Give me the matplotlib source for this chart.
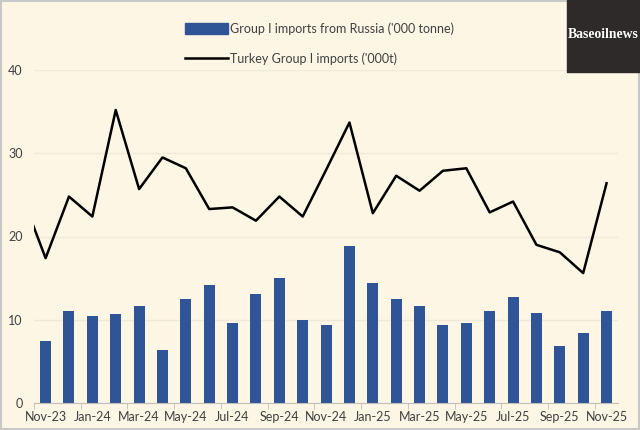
import matplotlib
matplotlib.use('Agg')
import matplotlib.pyplot as plt
from matplotlib.patches import Rectangle
from matplotlib.lines import Line2D

plt.rcParams['font.family'] = ['Lato', 'DejaVu Sans']

months = ['Nov-23', 'Dec-23', 'Jan-24', 'Feb-24', 'Mar-24', 'Apr-24', 'May-24',
          'Jun-24', 'Jul-24', 'Aug-24', 'Sep-24', 'Oct-24', 'Nov-24', 'Dec-24',
          'Jan-25', 'Feb-25', 'Mar-25', 'Apr-25', 'May-25', 'Jun-25', 'Jul-25',
          'Aug-25', 'Sep-25', 'Oct-25', 'Nov-25']
russia = [7.4, 11.1, 10.4, 10.7, 11.7, 6.4, 12.5, 14.2, 9.6, 13.1, 15.0, 10.0,
          9.4, 18.8, 14.4, 12.5, 11.7, 9.4, 9.6, 11.0, 12.7, 10.8, 6.8, 8.4, 11.0]
# Oct-23 value is only partly visible at the left edge of the chart
turkey_prev = 24.8
turkey = [17.4, 24.8, 22.4, 35.2, 25.7, 29.5, 28.2, 23.3, 23.5, 21.9, 24.8, 22.4,
          28.0, 33.7, 22.8, 27.3, 25.5, 27.9, 28.2, 22.9, 24.2, 19.0, 18.1, 15.6, 26.4]

BG = '#fdf6e4'
BLUE = '#2f5597'

fig = plt.figure(figsize=(6.4, 4.3), dpi=100, facecolor=BG)
ax = fig.add_axes([0.053, 0.063, 0.913, 0.774])
ax.set_facecolor(BG)

x = list(range(len(months)))
ax.bar(x, russia, width=0.47, color=BLUE, zorder=2)
ax.plot([-1] + x, [turkey_prev] + turkey, color='black', lw=1.8, zorder=3)

ax.set_xlim(-0.5, len(months) - 0.5)
ax.set_ylim(0, 40)
ax.set_yticks([0, 10, 20, 30, 40])
ax.yaxis.grid(True, color='#efe9d8', lw=1, zorder=0)
ax.set_xticks(x[::2])
ax.set_xticklabels(months[::2])
ax.set_xticks([i - 0.5 for i in x[::2]], minor=True)
ax.tick_params(axis='x', which='major', length=0, pad=6, labelsize=9, colors='#404040')
ax.tick_params(axis='x', which='minor', length=4, color='#bfbfbf')
ax.tick_params(axis='y', length=0, pad=8, labelsize=9, colors='#404040')
for s in ['top', 'right', 'left']:
    ax.spines[s].set_visible(False)
ax.spines['bottom'].set_color('#bfbfbf')

handles = [Rectangle((0, 0), 1, 1, color=BLUE),
           Line2D([0], [0], color='black', lw=1.8)]
labels = ["Group I imports from Russia ('000 tonne)",
          "Turkey Group I imports ('000t)"]
fig.legend(handles, labels, loc='upper left', bbox_to_anchor=(0.272, 0.975),
           frameon=False, fontsize=9, labelcolor='#404040',
           handlelength=3.4, handleheight=1.0, handletextpad=0.2, labelspacing=1.4)

# logo box
fig.patches.append(Rectangle((567 / 640, 1 - 72 / 430), 73 / 640, 72 / 430,
                             transform=fig.transFigure, color='#2d2a29', zorder=5))
fig.text(603 / 640, 1 - 35 / 430, 'Baseoilnews', color='white',
         family='Liberation Serif', weight='bold', fontsize=9.8,
         ha='center', va='center', zorder=6)

# outer frame
fig.patches.append(Rectangle((0.002, 0.003), 0.996, 0.994, transform=fig.transFigure,
                             fill=False, edgecolor='#c8c8c8', lw=1.5))

fig.savefig('out.png', dpi=100, facecolor=BG)
